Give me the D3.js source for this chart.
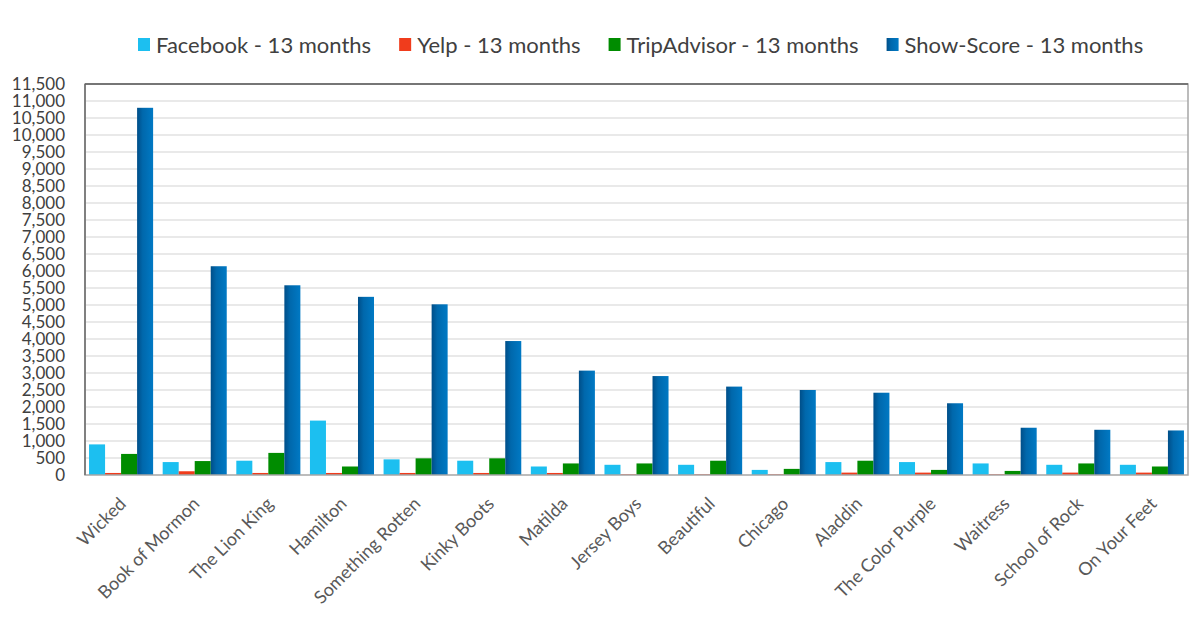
<!DOCTYPE html>
<html>
<head>
<meta charset="utf-8">
<script src="https://cdn.jsdelivr.net/npm/d3@7"></script>
<style>
  body { margin: 0; background: #fff; }
  svg { display: block; font-family: Lato, "Open Sans", sans-serif; }
</style>
</head>
<body>
<div id="chart"></div>
<script>
// Shows on the x axis
const shows = ["Wicked", "Book of Mormon", "The Lion King", "Hamilton", "Something Rotten",
    "Kinky Boots", "Matilda", "Jersey Boys", "Beautiful", "Chicago", "Aladdin",
    "The Color Purple", "Waitress", "School of Rock", "On Your Feet"];

// Series names (legend)
const seriesNames = ["Facebook - 13 months", "Yelp - 13 months", "TripAdvisor - 13 months", "Show-Score - 13 months"];

// Review counts per show
const facebook    = [900, 380, 420, 1600, 460, 420, 250, 300, 300, 150, 380, 380, 340, 300, 300];
const yelp        = [60, 110, 60, 60, 60, 60, 60, 20, 20, 20, 70, 70, 20, 70, 70];
const tripAdvisor = [620, 410, 650, 250, 490, 490, 340, 340, 420, 180, 420, 150, 120, 340, 250];
const showScore   = [10800, 6140, 5580, 5240, 5020, 3940, 3070, 2910, 2600, 2500, 2420, 2110, 1390, 1330, 1310];

// Y axis ticks
const yTicks = d3.range(0, 11501, 500);

const seriesValues = [facebook, yelp, tripAdvisor, showScore];
const colors = ["#1cbff0", "#f03c1c", "#008c00", "#0070b8"];

function createBarChart() {
    d3.select("#chart").html("");

    const W = 1200, H = 633;
    const margin = { top: 84, right: 12, bottom: 158, left: 85 };
    const width = W - margin.left - margin.right;
    const height = H - margin.top - margin.bottom;

    const svg = d3.select("#chart")
        .append("svg")
        .attr("width", W)
        .attr("height", H);

    // Gradient for the Show-Score bars
    const grad = svg.append("defs").append("linearGradient")
        .attr("id", "ssGrad")
        .attr("x1", "0%").attr("x2", "100%").attr("y1", "0%").attr("y2", "0%");
    grad.append("stop").attr("offset", "0%").attr("stop-color", "#004e88");
    grad.append("stop").attr("offset", "35%").attr("stop-color", "#0068ac");
    grad.append("stop").attr("offset", "100%").attr("stop-color", "#0079c4");

    const g = svg.append("g")
        .attr("transform", `translate(${margin.left},${margin.top})`);

    const x0 = d3.scaleBand()
        .domain(shows)
        .range([0, width])
        .paddingInner(0.13)
        .paddingOuter(0.055);

    const x1 = d3.scaleBand()
        .domain(d3.range(seriesNames.length))
        .range([0, x0.bandwidth()]);

    const y = d3.scaleLinear()
        .domain([0, 11500])
        .range([height, 0]);

    // Gridlines
    g.append("g")
        .selectAll("line")
        .data(yTicks.slice(1))
        .join("line")
        .attr("x1", 0).attr("x2", width)
        .attr("y1", d => y(d)).attr("y2", d => y(d))
        .attr("stroke", "#e2e2e2")
        .attr("stroke-width", 1.5);

    // Y axis labels
    const yAxis = g.append("g")
        .call(d3.axisLeft(y).tickValues(yTicks).tickFormat(d3.format(",")).tickSize(0).tickPadding(20));
    yAxis.select(".domain").remove();
    yAxis.selectAll("text")
        .attr("font-family", "Lato, sans-serif")
        .attr("font-size", 17)
        .attr("fill", "#404040");

    // Bars
    const groups = g.selectAll(".group")
        .data(shows)
        .join("g")
        .attr("class", "group")
        .attr("transform", d => `translate(${x0(d)},0)`);

    groups.selectAll("rect")
        .data((d, i) => seriesValues.map((s, k) => ({ k, value: s[i] })))
        .join("rect")
        .attr("x", d => x1(d.k))
        .attr("y", d => y(d.value))
        .attr("width", x1.bandwidth())
        .attr("height", d => height - y(d.value))
        .attr("fill", d => d.k === 3 ? "url(#ssGrad)" : colors[d.k]);

    // Plot frame
    g.append("rect")
        .attr("x", 0).attr("y", 0)
        .attr("width", width).attr("height", height)
        .attr("fill", "none")
        .attr("stroke", "#a6a6a6")
        .attr("stroke-width", 1.5);
    g.append("line")
        .attr("x1", 0).attr("x2", 0).attr("y1", 0).attr("y2", height)
        .attr("stroke", "#808080")
        .attr("stroke-width", 2);
    g.append("line")
        .attr("x1", 0).attr("x2", width).attr("y1", 0).attr("y2", 0)
        .attr("stroke", "#606060")
        .attr("stroke-width", 1.5);

    // X labels, rotated, anchored at their end just right of the group centre
    g.append("g")
        .selectAll("text")
        .data(shows)
        .join("text")
        .attr("transform", d => `translate(${x0(d) + x0.bandwidth() / 2 + 6},${height + 30}) rotate(-45)`)
        .attr("text-anchor", "end")
        .attr("font-size", 18)
        .attr("fill", "#595959")
        .text(d => d);

    // Legend
    const legend = svg.append("g").attr("transform", "translate(138,45)");
    let lx = 0;
    seriesNames.forEach((name, k) => {
        const item = legend.append("g").attr("transform", `translate(${lx},0)`);
        item.append("rect")
            .attr("x", 0).attr("y", -7)
            .attr("width", 12).attr("height", 13)
            .attr("fill", k === 3 ? "url(#ssGrad)" : colors[k]);
        const t = item.append("text")
            .attr("x", 18)
            .attr("dy", "0.35em")
            .attr("font-size", 22)
            .attr("fill", "#404040")
            .text(name);
        lx += 18 + t.node().getComputedTextLength() + 28;
    });
}

createBarChart();
</script>
</body>
</html>
